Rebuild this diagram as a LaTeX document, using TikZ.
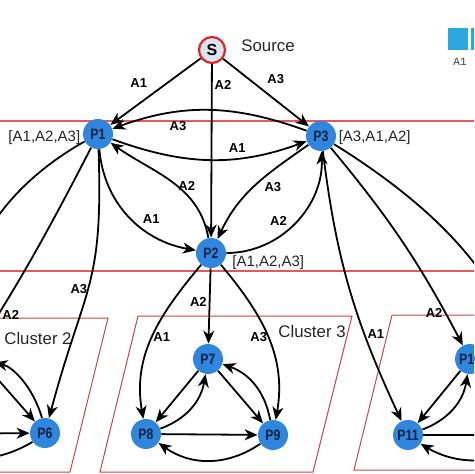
\documentclass[tikz,border=0pt]{standalone}
\usepackage{fontspec}
\setmainfont{Liberation Sans}
\setmonofont{Liberation Mono}
\newfontfamily\procfont[FakeStretch=0.82]{Liberation Sans}
\usetikzlibrary{positioning, arrows.meta}

\definecolor{procblue}{HTML}{2E86DE}
\definecolor{proctext}{HTML}{14213D}
\definecolor{srcfill}{HTML}{DCE5EF}
\definecolor{srcred}{HTML}{E02424}
\definecolor{bandred}{HTML}{E8585A}
\definecolor{clustred}{HTML}{C0474C}
\definecolor{legblue}{HTML}{2AA8DF}

\tikzset{
  proc/.style={circle, fill=procblue, minimum size=15pt, inner sep=0pt,
    text=proctext, font=\procfont\bfseries\fontsize{7.5}{8}\selectfont},
  src/.style={circle, draw=srcred, line width=1.1pt, fill=srcfill,
    minimum size=13pt, inner sep=0pt, font=\bfseries\fontsize{8}{9}\selectfont},
  flow/.style={-{Stealth[length=6.5pt,width=5.5pt,inset=2pt]}, line width=0.9pt},
  lbl/.style={font=\bfseries\fontsize{6.5}{7}\selectfont, inner sep=1pt},
  queue/.style={font=\fontsize{7.5}{8}\selectfont, text=black!85, inner sep=1pt},
  tag/.style={font=\fontsize{8.4}{9}\selectfont, text=black!85},
  legtext/.style={font=\ttfamily\fontsize{5.5}{6}\selectfont, text=black!75},
  band/.style={draw=bandred, line width=0.55pt},
  cluster/.style={draw=clustred, line width=0.5pt},
}

\begin{document}
\begin{tikzpicture}[x=0.5pt,y=0.5pt]
\useasboundingbox (0,0) rectangle (474,-474);
\clip (0,0) rectangle (474,-474);

% layer band and clusters
\draw[band] (-10,-121) rectangle (484,-271);
\draw[cluster] (-106,-318) -- (108,-318) -- (70,-472) -- (-144,-472) -- cycle;
\draw[cluster] (138,-316) -- (352,-316) -- (313,-472) -- (100,-472) -- cycle;
\draw[cluster] (392,-315) -- (606,-315) -- (568,-470) -- (354,-470) -- cycle;

% legend
\fill[legblue] (448,-28) rectangle (468,-50);
\fill[legblue] (471,-28) rectangle (491,-50);
\node[legtext] (leg1) at (460,-62) {A1};

% source
\node[src] (S) at (212,-50) {S};
\node[tag] (S-lbl) at (268,-46) {Source};

% processors
\node[proc] (P1) at (98,-134) {P1};
\node[proc] (P2) at (211,-253) {P2};
\node[proc] (P3) at (321,-136) {P3};
\node[proc] (P6) at (45,-433) {P6};
\node[proc] (P7) at (208,-359) {P7};
\node[proc] (P8) at (146,-434) {P8};
\node[proc] (P9) at (273,-435) {P9};
\node[proc] (P10) at (470,-359) {P10};
\node[proc] (P11) at (408,-435) {P11};
\coordinate (P4) at (-20,-359);
\coordinate (P5) at (-82,-434);
\coordinate (P12) at (535,-435);

% queues
\node[queue, left=0pt of P1, yshift=-2pt] (Q1) {[A1,A2,A3]};
\node[queue, right=0pt of P3, yshift=-1pt] (Q3) {[A3,A1,A2]};
\node[queue, anchor=west] (Q2) at (230,-263) {[A1,A2,A3]};
\node[tag] (C2) at (38,-338) {Cluster 2};
\node[tag] (C3) at (312,-331) {Cluster 3};

% source to first layer
\draw[flow] (S) -- node[lbl, pos=0.53, above left=2pt] {A1} (P1);
\draw[flow] (S) -- node[lbl, pos=0.12, right] {A2} (P2);
\draw[flow] (S) -- node[lbl, pos=0.45, above right=2pt] {A3} (P3);

% inside first layer
\draw[flow] (P3) to[out=160,in=20] node[lbl, pos=0.67, below=3.5pt] {A3} (P1);
\draw[flow] (P1) to[out=-20,in=-160] node[lbl, pos=0.65, above=1.5pt] {A1} (P3);
\draw[flow] (P1) to[out=-85,in=170] node[lbl, pos=0.6, above right] {A1} (P2);
\draw[flow] (P2) to[out=100,in=-35] node[lbl, pos=0.45, right=-1pt] {A2} (P1);
\draw[flow] (P3) to[out=-145,in=65] node[lbl, pos=0.43, below right] {A3} (P2);
\draw[flow] (P2) to[out=0,in=-88] node[lbl, pos=0.45, above left] {A2} (P3);

% first layer to clusters
\draw[flow, shorten >=7.5pt] (P1) .. controls (5,-186) and (-50,-262) .. (P4);
\draw[flow, shorten >=7.5pt] (P1) to[bend left=4] node[lbl, pos=0.58, right=1pt] {A2} (P5);
\draw[flow] (P1) to[out=-88,in=75,looseness=1.3] node[lbl, pos=0.52, left=-1pt] {A3} (P6);
\draw[flow] (P2) to[out=-130,in=100] node[lbl, pos=0.5, right=-1pt] {A1} (P8);
\draw[flow] (P2) -- node[lbl, pos=0.45, left] {A2} (P7);
\draw[flow] (P2) to[out=-50,in=80] node[lbl, pos=0.5, left=-1pt] {A3} (P9);
\draw[flow] (P3) to[out=-83,in=115] node[lbl, pos=0.68, right] {A1} (P11);
\draw[flow] (P3) to[bend left=6] node[lbl, pos=0.86, left] {A2} (P10);
\draw[flow, shorten >=7.5pt] (P3) to[out=-32,in=95] (P12);

% cluster 2
\draw[flow, shorten <=7.5pt] (P5) -- (P6);
\draw[flow, shorten <=7.5pt] (P4) -- (P6);
\draw[flow, shorten >=7.5pt] (P6) to[bend right=30] (P4);
\draw[flow, shorten >=7.5pt] (P6) to[bend left=35] (P5);

% cluster 3
\draw[flow] (P7) -- (P8);
\draw[flow] (P8) to[bend right=30] (P7);
\draw[flow] (P7) -- (P9);
\draw[flow] (P9) to[bend right=30] (P7);
\draw[flow] (P8) -- (P9);
\draw[flow] (P9) to[bend left=35] (P8);

% cluster 4
\draw[flow] (P10) -- (P11);
\draw[flow] (P11) to[bend right=30] (P10);
\draw[flow, shorten >=7.5pt] (P11) -- (P12);
\draw[flow, shorten <=7.5pt] (P12) to[bend left=35] (P11);
\end{tikzpicture}
\end{document}
